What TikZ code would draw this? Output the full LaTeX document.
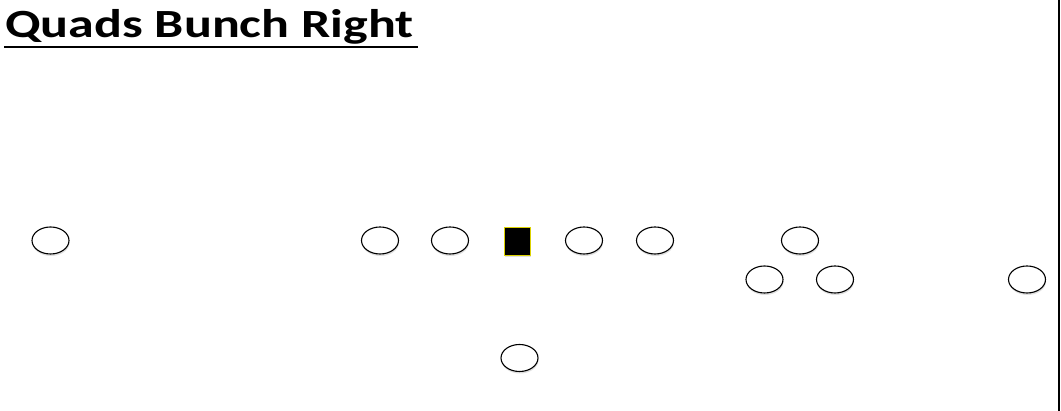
\documentclass[tikz,border=0pt]{standalone}
\usepackage{fontspec}
\setmainfont{Carlito}
\usetikzlibrary{shadows,shapes.geometric}
\definecolor{cyel}{RGB}{220,210,0}
\tikzset{
  player/.style={ellipse, draw=black, line width=1.1pt, fill=white, minimum width=37pt, minimum height=27pt, inner sep=0pt,
    drop shadow={opacity=0.25, shadow xshift=0.5pt, shadow yshift=-2pt}},
  center/.style={rectangle, draw=cyel, line width=1.2pt, fill=black, minimum width=26pt, minimum height=28pt, inner sep=0pt,
    drop shadow={opacity=0.25, shadow xshift=0.5pt, shadow yshift=-2pt}},
}
\begin{document}
\begin{tikzpicture}[x=1pt,y=1pt]
\useasboundingbox (0,0) rectangle (1061,411);
\fill[white] (0,0) rectangle (1061,411);
\node[anchor=base west, inner sep=0pt, font=\fontsize{40}{44}\selectfont\bfseries] (title) at (5,373) {\scalebox{1.3}[1]{Quads Bunch Right}};
\draw[line width=2.4pt] ([yshift=-9pt,xshift=-1pt]title.base west) -- ([yshift=-9pt,xshift=4pt]title.base east);
\coordinate (ltop) at (1059,411);
\coordinate (lbot) at (1059,0);
\draw[line width=1.3pt] (ltop) -- (lbot);
\node[player] (p1) at (50.5,170.5) {};
\node[player] (p2) at (380,170.5) {};
\node[player] (p3) at (450,170.5) {};
\node[center] (c) at (517.5,169.5) {};
\node[player] (p4) at (584,170.5) {};
\node[player] (p5) at (655,170.5) {};
\node[player] (p6) at (800,170.5) {};
\node[player] (p7) at (764.5,131.5) {};
\node[player] (p8) at (835,131.5) {};
\node[player] (p9) at (1027,131.5) {};
\node[player] (p10) at (519.5,53) {};
\end{tikzpicture}
\end{document}
